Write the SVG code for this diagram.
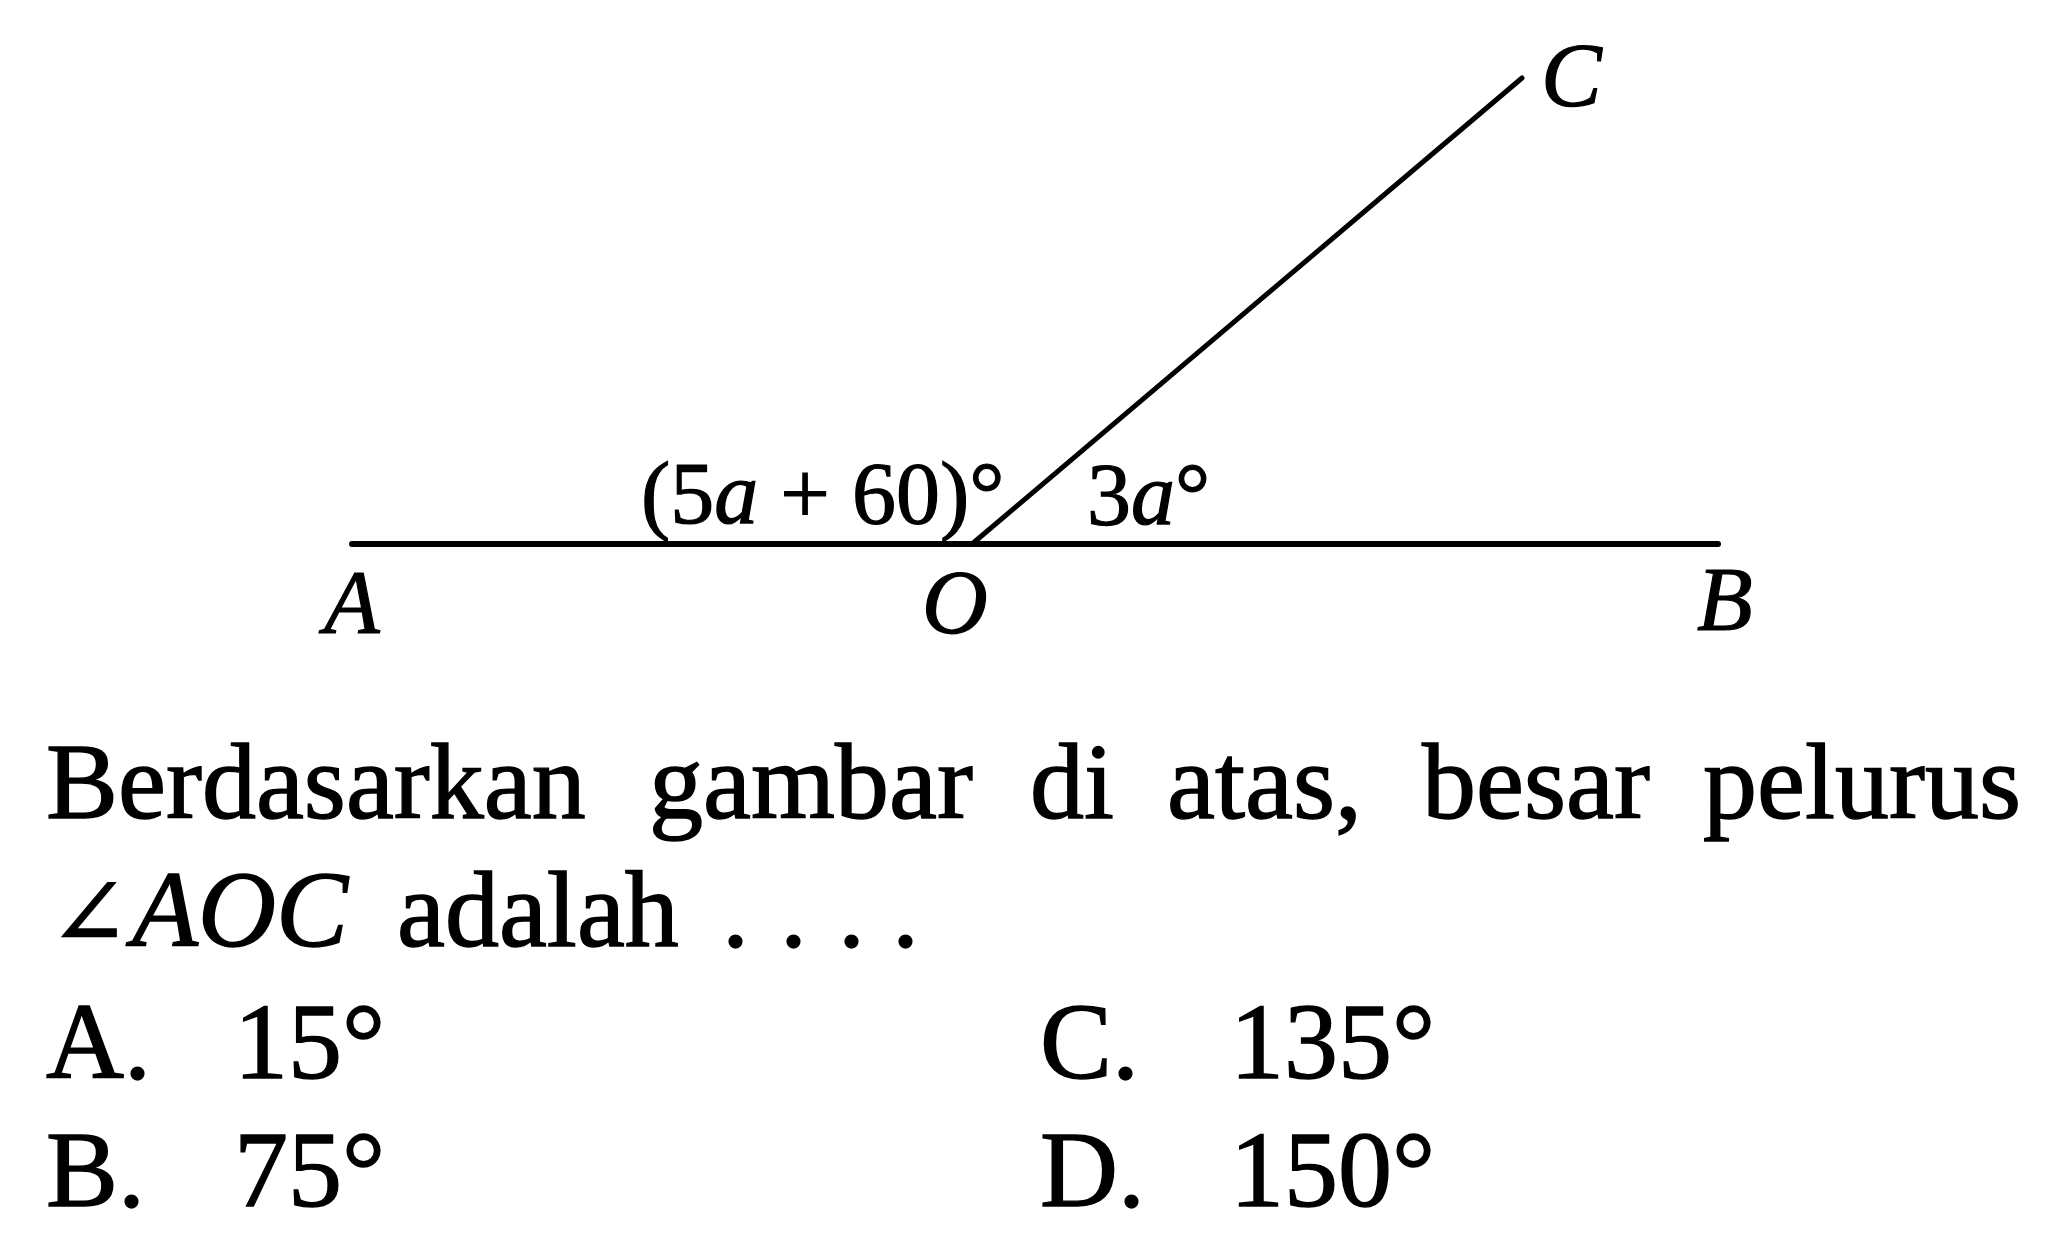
<svg xmlns="http://www.w3.org/2000/svg" width="2063" height="1259" viewBox="0 0 2063 1259">
<style>
.lbl{font-family:"Liberation Serif","Times New Roman",serif;font-size:91px;font-style:italic;fill:#000;stroke:#000;stroke-width:1.2}
.ang{font-family:"Liberation Serif","Times New Roman",serif;font-size:88px;fill:#000;stroke:#000;stroke-width:1.2}
.txt{font-family:"Liberation Serif","Times New Roman",serif;font-size:108px;fill:#000;stroke:#000;stroke-width:1.4}
.it{font-style:italic}
</style>
<rect width="2063" height="1259" fill="#fff"/>
<g id="connectors" stroke="#000" stroke-linecap="round" fill="none">
<line x1="352" y1="544" x2="1718" y2="544" stroke-width="6"/>
<line x1="972" y1="544" x2="1522" y2="78" stroke-width="5"/>
</g>
<g id="A"><text class="lbl" x="324" y="633">A</text></g>
<g id="O"><text class="lbl" x="922" y="633">O</text></g>
<g id="B"><text class="lbl" x="1697" y="630">B</text></g>
<g id="C"><text class="lbl" x="1541" y="106">C</text></g>
<g id="angle-AOC"><text class="ang" x="641" y="523">(5<tspan class="it">a</tspan> + 60)°</text></g>
<g id="angle-BOC"><text class="ang" x="1087" y="524">3<tspan class="it">a</tspan>°</text></g>
<g id="question">
<text class="txt" y="818"><tspan x="46">Berdasarkan</tspan><tspan x="649">gambar</tspan><tspan x="1030">di</tspan><tspan x="1167">atas,</tspan><tspan x="1422">besar</tspan><tspan x="1703">pelurus</tspan></text>
<text class="txt" y="946"><tspan x="49" font-family="DejaVu Serif" font-size="96">∠</tspan><tspan class="it" x="132">AOC</tspan><tspan x="397">adalah</tspan><tspan x="722">.</tspan><tspan x="780">.</tspan><tspan x="838">.</tspan><tspan x="892">.</tspan></text>
</g>
<g id="options">
<text class="txt" x="46" y="1078">A.</text>
<text class="txt" x="234" y="1078">15°</text>
<text class="txt" x="46" y="1206">B.</text>
<text class="txt" x="234" y="1206">75°</text>
<text class="txt" x="1040" y="1078">C.</text>
<text class="txt" x="1230" y="1078">135°</text>
<text class="txt" x="1040" y="1206">D.</text>
<text class="txt" x="1230" y="1206">150°</text>
</g>
</svg>
